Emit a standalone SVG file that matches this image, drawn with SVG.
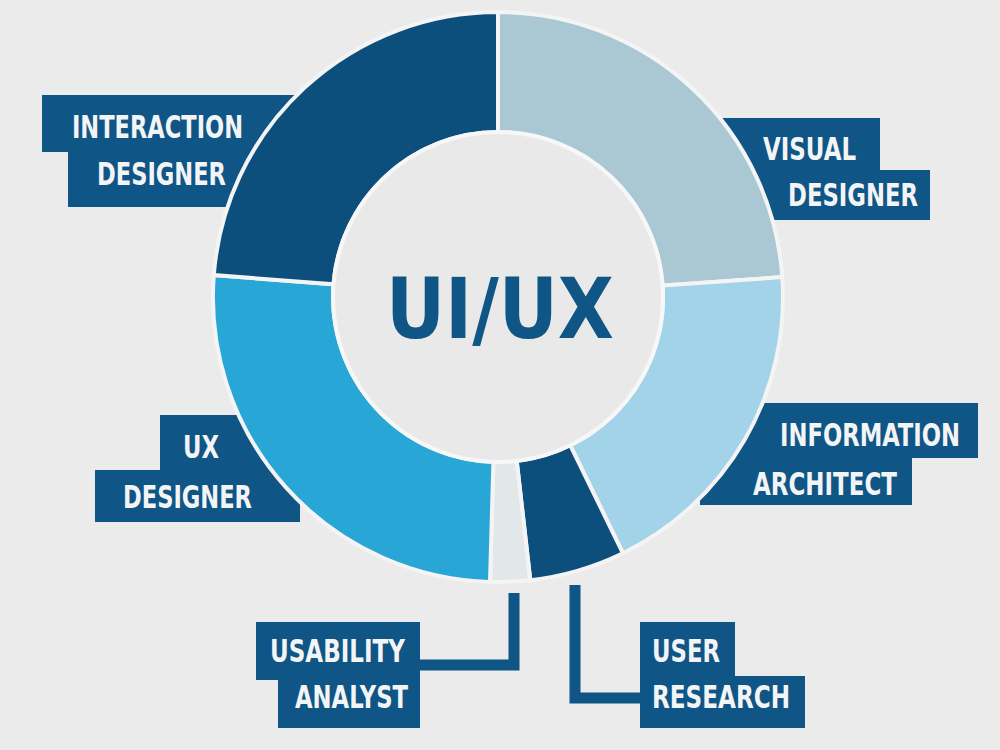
<svg xmlns="http://www.w3.org/2000/svg" width="1000" height="750" viewBox="0 0 1000 750">
<style>
.box{fill:#0f5585}
.t{font-family:"DejaVu Sans","Liberation Sans",sans-serif;font-stretch:condensed;font-weight:bold;font-size:32px;fill:#f2f4f6}
.seg{stroke:#f4f4f4;stroke-width:4}
.conn{fill:none;stroke:#0f5585;stroke-width:11}
</style>
<rect width="1000" height="750" fill="#ebebeb"/>
<g id="connectors">
<path class="conn" d="M415,665 H514 V593"/>
<path class="conn" d="M575,585 V698 H645"/>
</g>
<g id="interaction-designer">
<path class="box" d="M42,95 H300 V207 H68 V152 H42 Z"/>
<text class="t" x="72" y="138" textLength="171" lengthAdjust="spacingAndGlyphs">INTERACTION</text>
<text class="t" x="97" y="185" textLength="129" lengthAdjust="spacingAndGlyphs">DESIGNER</text>
</g>
<g id="visual-designer">
<path class="box" d="M700,118 H880 V170 H930 V220 H700 Z"/>
<text class="t" x="763" y="160" textLength="93" lengthAdjust="spacingAndGlyphs">VISUAL</text>
<text class="t" x="788" y="206" textLength="130" lengthAdjust="spacingAndGlyphs">DESIGNER</text>
</g>
<g id="information-architect">
<path class="box" d="M700,403 H978 V458 H912 V505 H700 Z"/>
<text class="t" x="780" y="446" textLength="180" lengthAdjust="spacingAndGlyphs">INFORMATION</text>
<text class="t" x="753" y="495" textLength="144" lengthAdjust="spacingAndGlyphs">ARCHITECT</text>
</g>
<g id="ux-designer">
<path class="box" d="M160,415 H300 V522 H95 V470 H160 Z"/>
<text class="t" x="183" y="458" textLength="36" lengthAdjust="spacingAndGlyphs">UX</text>
<text class="t" x="123" y="508" textLength="129" lengthAdjust="spacingAndGlyphs">DESIGNER</text>
</g>
<g id="usability-analyst">
<path class="box" d="M256,622 H420 V728 H278 V680 H256 Z"/>
<text class="t" x="270" y="662" textLength="135" lengthAdjust="spacingAndGlyphs">USABILITY</text>
<text class="t" x="295" y="708" textLength="113" lengthAdjust="spacingAndGlyphs">ANALYST</text>
</g>
<g id="user-research">
<path class="box" d="M640,622 H735 V676 H805 V728 H640 Z"/>
<text class="t" x="652" y="662" textLength="68" lengthAdjust="spacingAndGlyphs">USER</text>
<text class="t" x="652" y="708" textLength="138" lengthAdjust="spacingAndGlyphs">RESEARCH</text>
</g>
<g id="donut">
<path class="seg" fill="#a9c8d4" d="M498,12 A285,285 0 0 1 782.3,277.1 L662.6,285.5 A165,165 0 0 0 498,132 Z"/>
<path class="seg" fill="#a3d3e8" d="M782.3,277.1 A285,285 0 0 1 622.9,553.2 L570.3,445.3 A165,165 0 0 0 662.6,285.5 Z"/>
<path class="seg" fill="#0d4f7c" d="M622.9,553.2 A285,285 0 0 1 530.3,580.2 L516.7,460.9 A165,165 0 0 0 570.3,445.3 Z"/>
<path class="seg" fill="#e2e8ea" d="M530.3,580.2 A285,285 0 0 1 490,581.9 L493.4,461.9 A165,165 0 0 0 516.7,460.9 Z"/>
<path class="seg" fill="#28a6d6" d="M490,581.9 A285,285 0 0 1 213.8,275.1 L333.5,284.3 A165,165 0 0 0 493.4,461.9 Z"/>
<path class="seg" fill="#0d4f7c" d="M213.8,275.1 A285,285 0 0 1 498,12 L498,132 A165,165 0 0 0 333.5,284.3 Z"/>
<circle cx="498" cy="297" r="165" fill="#e9e9e9" stroke="#f7f7f7" stroke-width="4"/>
<text x="500" y="338" text-anchor="middle" font-family="DejaVu Sans, Liberation Sans, sans-serif" font-stretch="condensed" font-weight="bold" font-size="84" fill="#0f5585" textLength="228" lengthAdjust="spacingAndGlyphs">UI/UX</text>
</g>
</svg>
